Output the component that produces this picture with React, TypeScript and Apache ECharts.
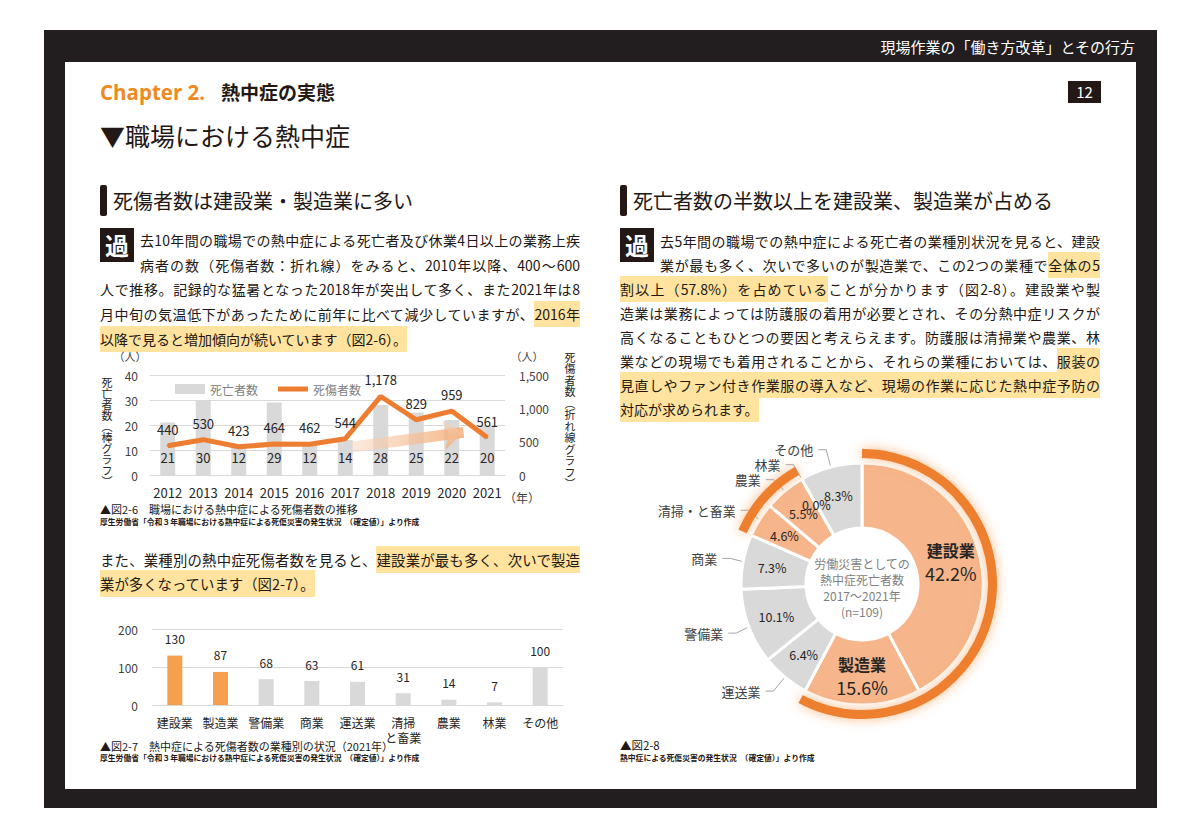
import React, { useEffect, useRef } from "react";
import * as echarts from "echarts";

const FONT = '"Noto Sans CJK JP", "Noto Sans", sans-serif';
const INK = "#231815";
const HL = "#FFE39E";

// ---- 図2-6 data ----
const years = ["2012", "2013", "2014", "2015", "2016", "2017", "2018", "2019", "2020", "2021"];
const deathCounts = [21, 30, 12, 29, 12, 14, 28, 25, 22, 20];
const casualtyCounts = [440, 530, 423, 464, 462, 544, 1178, 829, 959, 561];
const deathAxisTicks = { min: 0, max: 40, interval: 10 };
const casualtyAxisTicks = { min: 0, max: 1500, interval: 500 };
const deathAxisTitle = "死亡者数（棒グラフ）";
const casualtyAxisTitle = "死傷者数（折れ線グラフ）";
const trendArrowStart = [5.2, 420];
const trendArrowEnd = [8.33, 640];

// ---- 図2-7 data ----
const industryNames = ["建設業", "製造業", "警備業", "商業", "運送業", "清掃\nと畜業", "農業", "林業", "その他"];
const industryValues = [130, 87, 68, 63, 61, 31, 14, 7, 100];
const industryHighlighted = [true, true, false, false, false, false, false, false, false];

// ---- 図2-8 data ----
const shareNames = ["建設業", "製造業", "運送業", "警備業", "商業", "清掃・と畜業", "農業", "林業", "その他"];
const shareValues = [42.2, 15.6, 6.4, 10.1, 7.3, 4.6, 5.5, 0.0, 8.3];
const shareHighlighted = [true, true, false, false, false, true, true, true, false];
const shareFeatured = [true, true, false, false, false, false, false, false, false];
const donutCenterLines = ["労働災害としての", "熱中症死亡者数", "2017～2021年", "(n=109)"];

const pct = (v: number) => `${Number(v).toFixed(1)}%`;

const option1: any = {
  animation: false,
  textStyle: { fontFamily: FONT },
  grid: { left: 55, right: 90, top: 35, bottom: 35, outerBoundsMode: "none" },
  legend: {
    data: [
      { name: "死亡者数", icon: "rect" },
      { name: "死傷者数", icon: "path://M0,0L30,0L30,5L0,5Z" },
    ],
    left: 75,
    top: 38,
    itemWidth: 30,
    itemHeight: 10,
    itemGap: 20,
    textStyle: { color: "#7f7f7f", fontSize: 12, fontFamily: FONT },
  },
  xAxis: [
    {
      type: "category",
      data: years,
      axisLine: { lineStyle: { color: "#d9d9d9" } },
      axisTick: { show: false },
      axisLabel: { color: "#262626", fontSize: 13, margin: 11, fontFamily: FONT, interval: 0 },
    },
    { type: "value", min: -0.5, max: 9.5, show: false },
  ],
  yAxis: [
    {
      type: "value",
      ...deathAxisTicks,
      axisLine: { show: false },
      axisTick: { show: false },
      axisLabel: { color: "#404040", fontSize: 12, margin: 12, fontFamily: FONT },
      splitLine: { lineStyle: { color: "#d9d9d9" } },
    },
    {
      type: "value",
      ...casualtyAxisTicks,
      axisLine: { show: false },
      axisTick: { show: false },
      splitLine: { show: false },
      axisLabel: {
        color: "#404040",
        fontSize: 12,
        margin: 14,
        fontFamily: FONT,
        formatter: (v: number) => v.toLocaleString("en-US"),
      },
    },
  ],
  series: [
    {
      name: "死亡者数",
      type: "bar",
      data: deathCounts,
      barWidth: 15,
      itemStyle: { color: "#d9d9d9" },
      label: { show: true, position: "insideBottom", distance: 11, color: "#262626", fontSize: 13, fontFamily: FONT },
      z: 2,
    },
    {
      name: "trend",
      type: "line",
      xAxisIndex: 1,
      yAxisIndex: 1,
      data: [],
      silent: true,
      z: 3,
      markLine: {
        silent: true,
        symbol: ["none", "arrow"],
        symbolSize: [22, 20],
        label: { show: false },
        lineStyle: {
          type: "solid",
          width: 11,
          color: new echarts.graphic.LinearGradient(0, 0, 1, 0, [
            { offset: 0, color: "rgba(250,214,190,0.55)" },
            { offset: 1, color: "rgba(244,170,115,0.85)" },
          ]),
        },
        emphasis: { disabled: true },
        data: [[{ coord: trendArrowStart }, { coord: trendArrowEnd }]],
      },
    },
    {
      name: "死傷者数",
      type: "line",
      yAxisIndex: 1,
      data: casualtyCounts,
      symbol: "circle",
      symbolSize: 2,
      showSymbol: true,
      lineStyle: { color: "#ED7D31", width: 5 },
      itemStyle: { color: "#ED7D31" },
      label: {
        show: true,
        position: "top",
        distance: 9,
        color: "#262626",
        fontSize: 13,
        fontFamily: FONT,
        formatter: (p: any) => Number(p.value).toLocaleString("en-US"),
      },
      z: 4,
    },
  ],
  graphic: [
    { type: "text", x: 35, y: 16, style: { text: "（人）", fill: "#404040", fontSize: 11, fontFamily: FONT, align: "center", verticalAlign: "middle" } },
    { type: "text", x: 432, y: 16, style: { text: "（人）", fill: "#404040", fontSize: 11, fontFamily: FONT, align: "center", verticalAlign: "middle" } },
    { type: "text", x: 427, y: 157, style: { text: "（年）", fill: "#404040", fontSize: 12, fontFamily: FONT, align: "center", verticalAlign: "middle" } },
  ],
};

const option2: any = {
  animation: false,
  textStyle: { fontFamily: FONT },
  grid: { left: 57, right: 32, top: 14, bottom: 40, outerBoundsMode: "none" },
  xAxis: {
    type: "category",
    data: industryNames,
    axisLine: { lineStyle: { color: "#d9d9d9" } },
    axisTick: { show: false },
    axisLabel: { color: "#262626", fontSize: 12, margin: 10, lineHeight: 15, fontFamily: FONT, interval: 0, verticalAlign: "top" },
  },
  yAxis: {
    type: "value",
    min: 0,
    max: 200,
    interval: 100,
    axisLine: { show: false },
    axisTick: { show: false },
    axisLabel: { color: "#404040", fontSize: 12, margin: 14, fontFamily: FONT },
    splitLine: { lineStyle: { color: "#d9d9d9" } },
  },
  series: [
    {
      type: "bar",
      barWidth: 15,
      data: industryValues.map((v, i) => ({
        value: v,
        itemStyle: { color: industryHighlighted[i] ? "#F4A04E" : "#d9d9d9" },
      })),
      label: { show: true, position: "top", distance: 11, color: "#262626", fontSize: 12, fontFamily: FONT },
    },
  ],
};

function ringGroups() {
  const groups: { value: number; on: boolean }[] = [];
  shareValues.forEach((v, i) => {
    const on = shareHighlighted[i];
    const last = groups[groups.length - 1];
    if (last && last.on === on) last.value += v;
    else groups.push({ value: v, on });
  });
  return groups;
}

const PIE_CENTER = [242, 164];
const CENTER_LINE_GAP = 16;

const option3: any = {
  animation: false,
  textStyle: { fontFamily: FONT },
  series: [
    {
      type: "pie",
      center: PIE_CENTER,
      radius: [56, 121],
      startAngle: 90,
      silent: true,
      itemStyle: { borderColor: "#fff", borderWidth: 3 },
      labelLine: { show: false },
      labelLayout: { hideOverlap: false },
      label: {
        show: true,
        position: "inside",
        fontFamily: FONT,
        formatter: (p: any) =>
          shareFeatured[p.dataIndex]
            ? `{n|${p.name}}\n{v|${pct(p.value)}}`
            : `{s|${pct(p.value)}}`,
        rich: {
          n: { fontSize: 16, fontWeight: "bold", color: "#262626", lineHeight: 23, fontFamily: FONT },
          v: { fontSize: 18, color: "#262626", lineHeight: 23, fontFamily: FONT },
          s: { fontSize: 12.5, color: "#262626", lineHeight: 14, fontFamily: FONT },
        },
      },
      data: shareNames.map((n, i) => ({
        name: n,
        value: shareValues[i],
        itemStyle: { color: shareHighlighted[i] ? "#F6B58A" : "#d9d9d9" },
      })),
      z: 2,
    },
    {
      type: "pie",
      center: PIE_CENTER,
      radius: [56, 121],
      startAngle: 90,
      silent: true,
      itemStyle: { color: "rgba(0,0,0,0)", borderWidth: 0 },
      label: { show: true, position: "outside", color: "#404040", fontSize: 13, fontFamily: FONT, formatter: "{b}" },
      labelLine: { show: true, length: 18, length2: 8, lineStyle: { color: "#a6a6a6", width: 1 } },
      data: shareNames.map((n, i) => ({
        name: n,
        value: shareValues[i],
        label: { show: !shareFeatured[i] },
        labelLine: { show: !shareFeatured[i] },
      })),
      z: 1,
    },
    {
      type: "pie",
      center: PIE_CENTER,
      radius: [126, 135],
      startAngle: 90,
      silent: true,
      label: { show: false },
      labelLine: { show: false },
      data: ringGroups().map((g) => ({
        value: g.value,
        itemStyle: g.on
          ? { color: "#EE7F2D", shadowBlur: 12, shadowColor: "rgba(247,160,90,0.75)" }
          : { color: "rgba(0,0,0,0)" },
      })),
      z: 3,
    },
  ],
  graphic: donutCenterLines.map((line, i) => ({
    type: "text",
    x: PIE_CENTER[0],
    y: PIE_CENTER[1] + 3 + (i - (donutCenterLines.length - 1) / 2) * CENTER_LINE_GAP,
    z: 100,
    style: {
      text: line,
      fill: "#7f7f7f",
      fontSize: 12,
      fontFamily: FONT,
      align: "center",
      verticalAlign: "middle",
    },
  })),
};

function EChart({ option, style }: { option: any; style: React.CSSProperties }) {
  const ref = useRef<HTMLDivElement>(null);
  useEffect(() => {
    if (!ref.current) return;
    const chart = echarts.init(ref.current, undefined, { renderer: "svg" });
    chart.setOption(option);
    return () => chart.dispose();
  }, []);
  return <div ref={ref} style={{ position: "absolute", ...style }} />;
}

function Txt({ x, cy, size, h, children, style }: any) {
  return (
    <div
      style={{
        position: "absolute",
        left: x,
        top: cy - h / 2,
        height: h,
        lineHeight: `${h}px`,
        fontSize: size,
        whiteSpace: "nowrap",
        ...style,
      }}
    >
      {children}
    </div>
  );
}

function VText({ cx, top, spacing = 0, children }: any) {
  return (
    <div
      style={{
        position: "absolute",
        left: cx - 6,
        top,
        width: 12,
        writingMode: "vertical-rl",
        fontSize: 11,
        lineHeight: "12px",
        letterSpacing: spacing,
        color: "#262626",
        whiteSpace: "nowrap",
      } as any}
    >
      {children}
    </div>
  );
}

function PLine({ x, w, cy, justify = true, size = 14, children }: any) {
  return (
    <div
      style={{
        position: "absolute",
        left: x,
        width: w,
        top: cy - 11,
        height: 22,
        lineHeight: "22px",
        fontSize: size,
        textAlign: "justify",
        textAlignLast: justify ? "justify" : "left",
        color: INK,
      } as any}
    >
      {children}
    </div>
  );
}

const Hl = ({ children }: any) => <span style={{ background: HL, padding: "3px 0" }}>{children}</span>;

function SectionHead({ x, text }: { x: number; text: string }) {
  return (
    <>
      <div style={{ position: "absolute", left: x, top: 185, width: 7, height: 31, background: INK, borderRadius: 2 }} />
      <Txt x={x + 13} cy={201} size={20} h={30} style={{ color: INK }}>
        {text}
      </Txt>
    </>
  );
}

function DropCap({ x }: { x: number }) {
  return (
    <div
      style={{
        position: "absolute",
        left: x,
        top: 228,
        width: 34,
        height: 34,
        background: INK,
        color: "#fff",
        fontWeight: "bold",
        fontSize: 24,
        lineHeight: "34px",
        textAlign: "center",
      }}
    >
      過
    </div>
  );
}

export default function App() {
  const L = (i: number) => 240 + 24.7 * i;
  const R = (i: number) => 241 + 24 * i;
  return (
    <div
      style={{
        position: "absolute",
        left: 0,
        top: 0,
        width: 1200,
        height: 840,
        background: "#fff",
        fontFamily: FONT,
        color: INK,
        overflow: "hidden",
      }}
    >
      {/* frame */}
      <div style={{ position: "absolute", left: 44, top: 30, width: 1113, height: 778, background: "#221e1f" }} />
      <div style={{ position: "absolute", left: 65, top: 62, width: 1071, height: 727, background: "#fff" }} />
      <Txt x={878} cy={47} size={15} h={22} style={{ color: "#fff", width: 257, textAlign: "right" }}>
        現場作業の「働き方改革」とその行方
      </Txt>

      {/* chapter heading */}
      <Txt x={100} cy={92} size={20.5} h={28} style={{ color: "#EE8A22", fontWeight: "bold", fontFamily: '"Open Sans", sans-serif' }}>
        Chapter 2.
      </Txt>
      <Txt x={221} cy={92} size={19} h={26} style={{ fontWeight: "bold", color: INK }}>
        熱中症の実態
      </Txt>
      <div
        style={{
          position: "absolute",
          left: 1068,
          top: 81,
          width: 33,
          height: 22,
          background: INK,
          color: "#fff",
          fontSize: 15,
          lineHeight: "22px",
          textAlign: "center",
        }}
      >
        12
      </div>
      <Txt x={100} cy={135} size={25} h={34} style={{ color: INK }}>
        ▼職場における熱中症
      </Txt>

      {/* left column */}
      <SectionHead x={100} text="死傷者数は建設業・製造業に多い" />
      <DropCap x={100} />
      <PLine x={140} w={440} cy={L(0)}>去10年間の職場での熱中症による死亡者及び休業4日以上の業務上疾</PLine>
      <PLine x={140} w={440} cy={L(1)}>病者の数（死傷者数：折れ線）をみると、2010年以降、400～600</PLine>
      <PLine x={100} w={480} cy={L(2)}>人で推移。記録的な猛暑となった2018年が突出して多く、また2021年は8</PLine>
      <PLine x={100} w={480} cy={L(3)}>
        月中旬の気温低下があったために前年に比べて減少していますが、<Hl>2016年</Hl>
      </PLine>
      <PLine x={100} w={480} cy={L(4)} justify={false}>
        <Hl>以降で見ると増加傾向が続いています（図2-6）。</Hl>
      </PLine>

      <EChart option={option1} style={{ left: 95, top: 340, width: 500, height: 170 }} />
      <VText cx={107} top={377}>{deathAxisTitle}</VText>
      <VText cx={570} top={352} spacing={0.5}>{casualtyAxisTitle}</VText>
      <Txt x={100} cy={509} size={11} h={14} style={{ color: INK }}>
        ▲図2-6　職場における熱中症による死傷者数の推移
      </Txt>
      <Txt x={100} cy={522} size={7.8} h={10} style={{ color: INK, fontWeight: "bold" }}>
        厚生労働省「令和３年職場における熱中症による死傷災害の発生状況　（確定値）」より作成
      </Txt>

      <PLine x={100} w={480} cy={560} size={14.4}>
        また、業種別の熱中症死傷者数を見ると、<Hl>建設業が最も多く、次いで製造</Hl>
      </PLine>
      <PLine x={100} w={480} cy={584} size={14.4} justify={false}>
        <Hl>業が多くなっています（図2-7）。</Hl>
      </PLine>

      <EChart option={option2} style={{ left: 95, top: 615, width: 500, height: 130 }} />
      <Txt x={100} cy={746} size={11} h={14} style={{ color: INK }}>
        ▲図2-7　熱中症による死傷者数の業種別の状況（2021年）
      </Txt>
      <Txt x={100} cy={758} size={7.8} h={10} style={{ color: INK, fontWeight: "bold" }}>
        厚生労働省「令和３年職場における熱中症による死傷災害の発生状況　（確定値）」より作成
      </Txt>

      {/* right column */}
      <SectionHead x={620} text="死亡者数の半数以上を建設業、製造業が占める" />
      <DropCap x={620} />
      <PLine x={660} w={440} cy={R(0)}>去5年間の職場での熱中症による死亡者の業種別状況を見ると、建設</PLine>
      <PLine x={660} w={440} cy={R(1)}>
        業が最も多く、次いで多いのが製造業で、この2つの業種で<Hl>全体の5</Hl>
      </PLine>
      <PLine x={620} w={480} cy={R(2)}>
        <Hl>割以上（57.8%）を占めている</Hl>ことが分かります（図2-8）。建設業や製
      </PLine>
      <PLine x={620} w={480} cy={R(3)}>造業は業務によっては防護服の着用が必要とされ、その分熱中症リスクが</PLine>
      <PLine x={620} w={480} cy={R(4)}>高くなることもひとつの要因と考えらえます。防護服は清掃業や農業、林</PLine>
      <PLine x={620} w={480} cy={R(5)}>
        業などの現場でも着用されることから、それらの業種においては、<Hl>服装の</Hl>
      </PLine>
      <PLine x={620} w={480} cy={R(6)}>
        <Hl>見直しやファン付き作業服の導入など、現場の作業に応じた熱中症予防の</Hl>
      </PLine>
      <PLine x={620} w={480} cy={R(7)} justify={false}>
        <Hl>対応が求められます。</Hl>
      </PLine>

      <EChart option={option3} style={{ left: 620, top: 420, width: 500, height: 320 }} />
      <Txt x={620} cy={745} size={11.5} h={14} style={{ color: INK }}>
        ▲図2-8
      </Txt>
      <Txt x={620} cy={758} size={7.8} h={10} style={{ color: INK, fontWeight: "bold" }}>
        熱中症による死傷災害の発生状況　（確定値）」より作成
      </Txt>
    </div>
  );
}
